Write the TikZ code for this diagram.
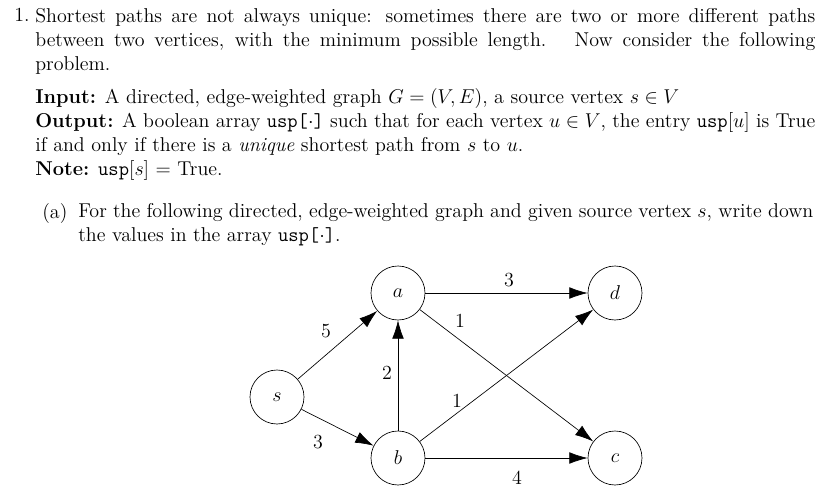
\documentclass[tikz,border=0pt,12pt]{standalone}
\usetikzlibrary{arrows.meta}
\begin{document}
\begin{tikzpicture}[x=0.6pt,y=-0.6pt,
 vtx/.style={draw,circle,minimum size=32.4pt,inner sep=0pt},
 edge/.style={-{Latex[length=11pt,width=7pt]},thin},
 lbl/.style={inner sep=0pt},
 txt/.style={anchor=north west,inner sep=0pt,align=justify}]
\useasboundingbox (0,0) rectangle (833,503);
\node[anchor=north west,inner sep=0pt] (n1) at (14,8) {1.};
\node[txt,text width=468pt] (p1) at (35,8) {\hyphenpenalty=10000 Shortest paths are not always unique: sometimes there are two or more different paths\linebreak between two vertices, with the minimum possible length. \ Now consider the following\linebreak problem.};
\node[txt,text width=468pt] (p2) at (35,88) {\textbf{Input:} A directed, edge-weighted graph $G=(V,E)$, a source vertex $s\in V$\\
\textbf{Output:} A boolean array \texttt{usp[$\cdot$]} such that for each vertex $u\in V$, the entry \texttt{usp}$[u]$ is True if and only if there is a \emph{unique} shortest path from $s$ to $u$.\\
\textbf{Note:} \texttt{usp}$[s]$ $=$ True.};
\node[anchor=north west,inner sep=0pt] (n2) at (42,203) {(a)};
\node[txt,text width=441pt] (p3) at (78,203) {For the following directed, edge-weighted graph and given source vertex $s$, write down the values in the array \texttt{usp[$\cdot$]}.};
\node[vtx] (a) at (398,293) {$a$};
\node[vtx] (d) at (615,293) {$d$};
\node[vtx] (s) at (277,397) {$s$};
\node[vtx] (b) at (398,458) {$b$};
\node[vtx] (c) at (615,458) {$c$};
\draw[edge] (s) -- (a);
\draw[edge] (s) -- (b);
\draw[edge] (b) -- (a);
\draw[edge] (a) -- (d);
\draw[edge] (a) -- (c);
\draw[edge] (b) -- (d);
\draw[edge] (b) -- (c);
\node[lbl] (l1) at (326,331) {5};
\node[lbl] (l2) at (387,442) {};
\node[lbl] (l2b) at (318,442) {3};
\node[lbl] (l3) at (387,373) {2};
\node[lbl] (l4) at (509,280) {3};
\node[lbl] (l5) at (460,321) {1};
\node[lbl] (l6) at (457,401) {1};
\node[lbl] (l7) at (517,478) {4};
\end{tikzpicture}
\end{document}
